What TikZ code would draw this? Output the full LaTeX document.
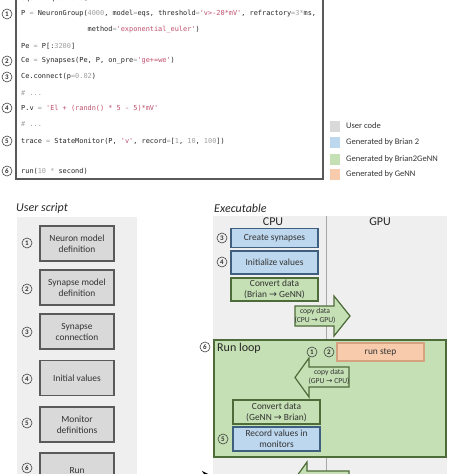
\documentclass[tikz,border=0pt]{standalone}
\usepackage{fontspec}
\setmainfont{Carlito}
\newfontfamily\codefont{DejaVu Sans Mono}[Ligatures=TeXOff]
\newfontfamily\symfont{DejaVu Sans}
\usetikzlibrary{arrows.meta}
\definecolor{panel}{HTML}{EFEFEF}
\definecolor{ufill}{HTML}{D9D9D9}
\definecolor{udraw}{HTML}{5A5A5A}
\definecolor{bfill}{HTML}{BDD7EE}
\definecolor{bdraw}{HTML}{3F5F7F}
\definecolor{gfill}{HTML}{C5E0B4}
\definecolor{gdraw}{HTML}{4E6B3A}
\definecolor{ofill}{HTML}{F8CBAD}
\definecolor{odraw}{HTML}{D4A27E}
\definecolor{strc}{HTML}{C0506E}
\definecolor{numc}{HTML}{A0A0A0}
\definecolor{divc}{HTML}{A8A8A8}
\newcommand\cs[1]{\textcolor{strc}{#1}}
\newcommand\cn[1]{\textcolor{numc}{#1}}
\newcommand\arr{{\symfont\char"2192}}
\begin{document}
\begin{tikzpicture}[x=1pt,y=-1pt,
  codeline/.style={anchor=west,inner sep=0pt,font=\codefont\fontsize{6.9}{8}\selectfont,text=black!85},
  cnum/.style={circle,draw=black!75,line width=0.6pt,inner sep=0pt,minimum size=10pt,font=\fontsize{7}{7}\selectfont\bfseries,text=black!80},
  ubox/.style={draw=udraw,fill=ufill,line width=1.2pt,minimum width=74pt,minimum height=35pt,align=center,inner sep=1pt,font=\fontsize{9.4}{11}\selectfont,text=black!80},
  bbox/.style={draw=bdraw,fill=bfill,line width=1.2pt,minimum width=87pt,align=center,inner sep=1pt,font=\fontsize{9.4}{11}\selectfont,text=black!80},
  gbox/.style={draw=gdraw,fill=gfill,line width=1.2pt,minimum width=87pt,align=center,inner sep=1pt,font=\fontsize{9.4}{11}\selectfont,text=black!80},
  heading/.style={anchor=west,inner sep=0pt,font=\fontsize{12}{12}\selectfont\itshape,text=black!85},
  colhead/.style={inner sep=0pt,font=\fontsize{12}{12}\selectfont,text=black!85},
  legsq/.style={minimum width=10pt,minimum height=11pt,inner sep=0pt},
  legtxt/.style={anchor=west,inner sep=0pt,font=\fontsize{8.5}{9}\selectfont,text=black!80},
  arrtxt/.style={inner sep=0pt,align=center,font=\fontsize{7.6}{8.6}\selectfont,text=black!80},
  blockarr/.style={draw=gdraw,fill=gfill,line width=1.2pt,line join=miter}
]
\useasboundingbox (0,0) rectangle (474,474);
\begin{scope}
\clip (0,0) rectangle (474,474);

% ---------- code box ----------
\draw[draw=black!65,line width=1.5pt,fill=white] (16,-10) rectangle (323,179);
\node[codeline] (c0) at (21,-1) {eqs \cn{=} Equations(\cs{'''}};
\node[codeline] (c1) at (21,14) {P \cn{=} NeuronGroup(\cn{4000}, model\cn{=}eqs, threshold\cn{=}\cs{'v>-20*mV'}, refractory\cn{=3*}ms,};
\node[codeline] (c1b) at (87.4,30) {method\cn{=}\cs{'exponential\_euler'})};
\node[codeline] (c2) at (21,46) {Pe \cn{=} P[:\cn{3200}]};
\node[codeline] (c3) at (21,61) {Ce \cn{=} Synapses(Pe, P, on\_pre\cn{=}\cs{'ge+=we'})};
\node[codeline] (c4) at (21,77) {Ce.connect(p\cn{=0.02})};
\node[codeline] (c5) at (21,93) {\cn{\# ...}};
\node[codeline] (c6) at (21,108) {P.v \cn{=} \cs{'El + (randn() * 5 - 5)*mV'}};
\node[codeline] (c7) at (21,124) {\cn{\# ...}};
\node[codeline] (c8) at (21,141) {trace \cn{=} StateMonitor(P, \cs{'v'}, record\cn{=}[\cn{1}, \cn{10}, \cn{100}])};
\node[codeline] (c9) at (21,171) {run(\cn{10 *} second)};
\node[cnum] (k1) at (7,14) {1};
\node[cnum] (k2) at (7,61) {2};
\node[cnum] (k3) at (7,77) {3};
\node[cnum] (k4) at (7,108) {4};
\node[cnum] (k5) at (7,141) {5};
\node[cnum] (k6) at (7,171) {6};

% ---------- legend ----------
\node[legsq,fill=ufill] (l1) at (335,126) {};
\node[legsq,fill=bfill] (l2) at (335,142) {};
\node[legsq,fill=gfill] (l3) at (335,159) {};
\node[legsq,fill=ofill] (l4) at (335,174) {};
\node[legtxt] (t1) at (346,126) {User code};
\node[legtxt] (t2) at (346,142) {Generated by Brian 2};
\node[legtxt] (t3) at (346,159) {Generated by Brian2GeNN};
\node[legtxt] (t4) at (346,174) {Generated by GeNN};

% ---------- user script panel ----------
\node[heading] (hus) at (16,208) {User script};
\fill[panel] (17,217) rectangle (137,490);
\node[ubox] (u1) at (77,243.5) {Neuron model\\definition};
\node[ubox] (u2) at (77,287.5) {Synapse model\\definition};
\node[ubox] (u3) at (77,331.5) {Synapse\\connection};
\node[ubox] (u4) at (77,378) {Initial values};
\node[ubox] (u5) at (77,424.5) {Monitor\\definitions};
\node[ubox] (u6) at (77,470.5) {Run};
\node[cnum] (m1) at (27,243) {1};
\node[cnum] (m2) at (27,289) {2};
\node[cnum] (m3) at (27,332) {3};
\node[cnum] (m4) at (27,379) {4};
\node[cnum] (m5) at (27,423) {5};
\node[cnum] (m6) at (27,468) {6};

% ---------- executable panel ----------
\node[heading] (hex) at (214,208) {Executable};
\fill[panel] (213,216) rectangle (447,490);
\draw[divc,line width=0.8pt] (326,216) -- (326,490);
\node[colhead] (cpu) at (273,222) {CPU};
\node[colhead] (gpu) at (380,222) {GPU};

\node[bbox,minimum height=19pt] (e3) at (274.5,238) {Create synapses};
\node[bbox,minimum height=23pt] (e4) at (274.5,262.5) {Initialize values};
\node[gbox,minimum height=23pt] (e5) at (274.5,289.5) {Convert data\\(Brian \arr\ GeNN)};
\node[cnum] (n3) at (222,238) {3};
\node[cnum] (n4) at (222,262) {4};

% copy data CPU -> GPU
\draw[blockarr] (295,306) -- (334,306) -- (334,296) -- (350,316) -- (334,336) -- (334,326) -- (295,326) -- cycle;
\node[arrtxt] (a1) at (315,316) {copy data\\(CPU \arr\ GPU)};

% run loop
\draw[draw=gdraw,fill=gfill,line width=1.2pt] (214,340) rectangle (446,457);
\node[anchor=west,inner sep=0pt,font=\fontsize{12}{12}\selectfont,text=black!85] (rl) at (217,348) {Run loop};
\node[cnum] (n6) at (205,347) {6};
\node[cnum] (r1) at (312,352) {1};
\node[cnum] (r2) at (329,352) {2};
\node[draw=odraw,fill=ofill,line width=1.2pt,minimum width=87pt,minimum height=18pt,inner sep=1pt,font=\fontsize{9.4}{11}\selectfont,text=black!80] (rs) at (380.5,352) {run step};

% copy data GPU -> CPU
\draw[blockarr] (349,367) -- (309,367) -- (309,358) -- (295,377.5) -- (309,397) -- (309,387) -- (349,387) -- cycle;
\node[arrtxt] (a2) at (329,377) {copy data\\(GPU \arr\ CPU)};

\node[gbox,minimum height=24pt] (e6) at (276.5,412) {Convert data\\(GeNN \arr\ Brian)};
\node[bbox,minimum height=24pt] (e7) at (276.5,439) {Record values in\\monitors};
\node[cnum] (n5) at (223,439) {5};

% bottom arrow (cut off)
\draw[blockarr] (349,471) -- (307,471) -- (307,462) -- (293,481.5) -- (307,501) -- (307,491) -- (349,491) -- cycle;

% black arrow from Run towards executable
\coordinate (ra) at (142,476);
\coordinate (rb) at (212,476);
\draw[black,line width=1.6pt,-{Stealth[length=10pt,width=10pt]}] (ra) -- (rb);
\end{scope}
\end{tikzpicture}
\end{document}
